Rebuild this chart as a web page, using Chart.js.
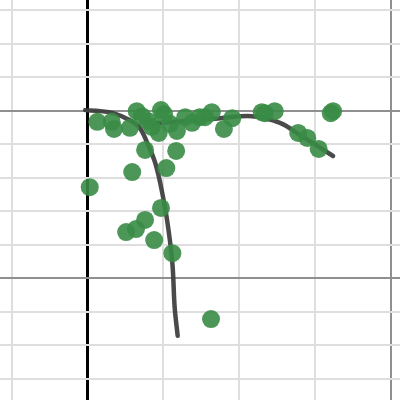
<!DOCTYPE html>
<html>
<head>
<meta charset="utf-8">
<script src="https://cdn.jsdelivr.net/npm/chart.js@4"></script>
<style>
  html, body { margin: 0; padding: 0; background: #fff; }
  #wrap { width: 400px; height: 400px; }
</style>
</head>
<body>
<div id="wrap"><canvas id="plot" width="400" height="400"></canvas></div>
<script>
// scatter points
const dotX = [0.13, 0.32, 0.35, 0.56, 0.65, 0.72, 0.80, 0.97, 1.01, 0.85,
  0.94, 1.09, 1.18, 1.29, 1.38, 1.48, 1.55, 1.64, 1.80, 1.91,
  2.30, 2.34, 2.47, 2.78, 2.90, 3.05, 3.21, 3.24, 0.76, 1.17,
  0.59, 1.04, 0.03, 0.97, 0.76, 0.64, 0.51, 0.88, 1.12, 1.63];
const dotY = [-0.33, -0.33, -0.54, -0.51, -0.01, -0.16, -0.31, 0.02, -0.10, -0.48,
  -0.66, -0.39, -0.60, -0.19, -0.36, -0.19, -0.19, -0.04, -0.54, -0.22,
  -0.04, -0.07, -0.01, -0.66, -0.81, -1.14, -0.07, -0.01, -1.17, -1.20,
  -1.83, -1.71, -2.28, -2.90, -3.26, -3.53, -3.62, -3.86, -4.25, -6.22];

// the falling curve
const curveAX = [-0.03, 0.17, 0.34, 0.56, 0.69, 0.80, 0.89, 0.96, 1.05, 1.12, 1.15, 1.19];
const curveAY = [0.02, -0.01, -0.07, -0.28, -0.51, -1.02, -1.53, -2.16, -3.26, -4.55, -5.86, -6.72];

// the flatter curve to the right
const curveBX = [0.83, 1.15, 1.48, 1.75, 2.17, 2.54, 2.80, 3.24];
const curveBY = [-0.39, -0.33, -0.28, -0.22, -0.16, -0.36, -0.72, -1.35];

// grid lines (no labels shown)
const xTicks = [-1, 0, 1, 2, 3, 4];
const yTicks = [3, 2, 1, 0, -1, -2, -3, -4, -5, -6, -7, -8];

const pts = (xs, ys) => xs.map((x, i) => ({ x, y: ys[i] }));

const lineStyle = {
  showLine: true,
  borderColor: "rgba(60,60,60,0.93)",
  borderWidth: 4.5,
  borderCapStyle: "round",
  borderJoinStyle: "round",
  pointRadius: 0,
  tension: 0.35,
  order: 2
};

new Chart(document.getElementById("plot"), {
  type: "scatter",
  data: {
    datasets: [
      {
        data: pts(dotX, dotY),
        backgroundColor: "rgba(56,140,70,0.9)",
        borderWidth: 0,
        pointRadius: 9,
        order: 0
      },
      Object.assign({ data: pts(curveAX, curveAY) }, lineStyle),
      Object.assign({ data: pts(curveBX, curveBY) }, lineStyle)
    ]
  },
  options: {
    responsive: false,
    animation: false,
    layout: { padding: 0, autoPadding: false }, // no room kept for the dots at the edge
    plugins: { legend: { display: false }, tooltip: { enabled: false } },
    scales: {
      x: {
        type: "linear",
        min: -1.154,
        max: 4.123,
        border: { display: false },
        ticks: { display: false },
        afterBuildTicks: s => { s.ticks = xTicks.map(v => ({ value: v })); },
        grid: {
          drawTicks: false,
          color: c => {
            const v = c.tick.value;
            if (v === 0) return "#000";
            if (v % 4 === 0) return "#8f8f8f";
            return "#dedede";
          },
          lineWidth: c => (c.tick.value === 0 ? 3 : 2)
        }
      },
      y: {
        type: "linear",
        min: -8.635,
        max: 3.308,
        border: { display: false },
        ticks: { display: false },
        afterBuildTicks: s => { s.ticks = yTicks.map(v => ({ value: v })); },
        grid: {
          drawTicks: false,
          color: c => (c.tick.value % 5 === 0 ? "#8f8f8f" : "#dedede"),
          lineWidth: 2
        }
      }
    }
  }
});
</script>
</body>
</html>
